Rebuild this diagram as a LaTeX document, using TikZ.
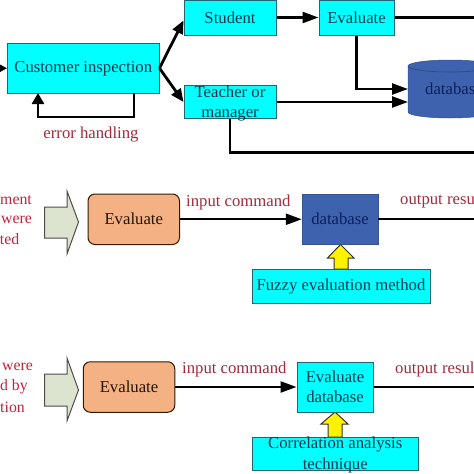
\documentclass[tikz,border=0pt]{standalone}
\usepackage{fontspec}
\setmainfont{Liberation Serif}
\usetikzlibrary{arrows.meta,calc,shapes.geometric}
\definecolor{cy}{HTML}{00FFFF}
\definecolor{cyedge}{HTML}{1F6674}
\definecolor{cytext}{HTML}{06384F}
\definecolor{dbblue}{HTML}{3F62AE}
\definecolor{dbtext}{HTML}{0A1F5C}
\definecolor{orng}{HTML}{F4B183}
\definecolor{grn}{HTML}{DCE3CF}
\definecolor{lab}{HTML}{A52A3A}
\definecolor{labr}{HTML}{C8203A}
\newcommand\twolines[2]{\smash{\raisebox{-5.5pt}{\begin{tabular}{@{}c@{}}#1\\#2\end{tabular}}}}
\tikzset{
  x=1pt,y=-1pt,
  txt/.style={font=\fontsize{16.7}{20.5}\selectfont,align=center,inner sep=0pt},
  cybox/.style={txt,draw=cyedge,line width=1pt,fill=cy,text=cytext,anchor=center},
  evalbox/.style={txt,draw=black!80!orange,line width=1pt,fill=orng,rounded corners=7pt,text=black!85!orange,minimum width=91.5pt,minimum height=50.5pt},
  lbl/.style={txt,text=lab},
  sidelbl/.style={txt,text=labr,anchor=east,font=\fontsize{15.8}{20}\selectfont},
  conn/.style={line width=2.4pt,draw=black},
  arr/.style={conn,-{Triangle[length=16pt,width=11pt]}},
  thick arr/.style={line width=2.8pt,draw=black,-{Triangle[length=13pt,width=11pt]}},
  bigarrow/.style={draw=black!70,line width=1pt,fill=grn,line join=miter},
  yelarrow/.style={draw=black!80,line width=1pt,fill=yellow,line join=miter},
}
\begin{document}
\begin{tikzpicture}
\useasboundingbox (0,0) rectangle (474,474);
\clip (0,0) rectangle (474,474);
% ---- top row
\node[cybox,minimum width=151.5pt,minimum height=49.5pt] (cust) at (83.25,68.25) {Customer inspection};
\node[cybox,minimum width=92pt,minimum height=35pt] (student) at (230,17.5) {Student};
\node[cybox,minimum width=75pt,minimum height=35pt] (evaltop) at (356.5,17.5) {Evaluate};
\node[cybox,minimum width=92pt,minimum height=33pt] (teacher) at (230,102) {\twolines{Teacher or}{manager}};
\node[lbl] (err) at (91,135) {error handling};
% cylinder
\path[fill=dbblue,draw=dbblue!80!black,line width=.5pt] (408,66) arc[start angle=180,end angle=360,x radius=42,y radius=6] -- (492,112) arc[start angle=0,end angle=180,x radius=42,y radius=6] -- cycle;
\draw[dbblue!75!black,line width=.7pt] (408,66) arc[start angle=180,end angle=0,x radius=42,y radius=6];
\node[txt,text=dbtext,anchor=west] (db) at (425,89) {databas};
\coordinate (dbA) at (408,89);
\coordinate (dbB) at (408,102);
\coordinate (inL) at (0,68.25);
\draw[conn,-{Triangle[length=7pt,width=7pt]}] (inL) -- (cust.west);
\draw[thick arr] (cust.east) -- ($(student.west)+(0,3)$);
\draw[thick arr] (cust.east) -- (teacher.west);
\coordinate (loopR) at (134,93);
\coordinate (loopL) at (38,93);
\draw[conn,line width=2.6pt,-{Triangle[length=11pt,width=12pt]}] (loopR) -- (134,117) -- (38,117) -- (loopL);
\draw[arr] (student.east) -- (evaltop.west);
\coordinate (outTop) at (474,17.5);
\draw[conn] (evaltop.east) -- (outTop);
\draw[arr] (evaltop.south) |- (dbA);
\draw[arr] (teacher.east) -- (dbB);
\coordinate (outLow) at (474,152.5);
\draw[conn] (teacher.south) |- (outLow);
% ---- middle row
\draw[yelarrow] (334,269) -- (334,258) -- (327.5,258) -- (340.5,244.5) -- (354,258) -- (348,258) -- (348,269) -- cycle;
\node[evalbox] (eval2) at (133.75,219.25) {Evaluate};
\node[txt,fill=dbblue,draw=dbblue!85!black,line width=.5pt,text=dbtext,minimum width=76pt,minimum height=50.5pt] (db2) at (340,219.25) {database};
\node[cybox,minimum width=178pt,minimum height=33.5pt] (fuzzy) at (341,286.25) {Fuzzy evaluation method};
\node[lbl,anchor=west] (in2) at (186,202) {input command};
\node[lbl,anchor=west] (out2) at (400,202) {output resu};
\node[sidelbl] (s1) at (32,200) {ment};
\node[sidelbl] (s2) at (32,219.5) {were};
\node[sidelbl] (s3) at (19.5,239) {ted};
\draw[bigarrow] (44.5,207) -- (67,207) -- (67,191) -- (78.5,222) -- (67,254) -- (67,238) -- (44.5,238) -- cycle;
\draw[arr] (eval2.east) -- (db2.west);
\coordinate (out2R) at (474,219.25);
\draw[conn] (db2.east) -- (out2R);
% ---- bottom row
\draw[yelarrow] (328,437) -- (328,424) -- (321,424) -- (335,412) -- (348,424) -- (342,424) -- (342,437) -- cycle;
\node[evalbox] (eval3) at (129,387) {Evaluate};
\node[cybox,minimum width=76pt,minimum height=50pt] (db3) at (335,387) {\twolines{Evaluate}{database}};
\node[cybox,minimum width=166.5pt,minimum height=33pt] (corr) at (335.25,453.5) {\twolines{Correlation analysis}{technique}};
\node[lbl,anchor=west] (in3) at (182,369) {input command};
\node[lbl,anchor=west] (out3) at (395,369) {output resul};
\node[sidelbl] (t1) at (33,367) {were};
\node[sidelbl] (t2) at (28,387) {d by};
\node[sidelbl] (t3) at (25,407) {tion};
\draw[bigarrow] (44.5,374) -- (67,374) -- (67,358) -- (78.5,390) -- (67,421) -- (67,406) -- (44.5,406) -- cycle;
\draw[arr] (eval3.east) -- (db3.west);
\coordinate (out3R) at (474,387);
\draw[conn] (db3.east) -- (out3R);
\end{tikzpicture}
\end{document}
